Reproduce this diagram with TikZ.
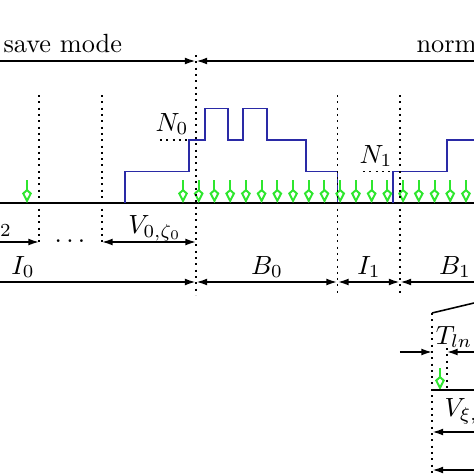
\documentclass[tikz,border=0pt]{standalone}
\usepackage{xcolor}
\usepackage{tikz}
\usetikzlibrary{arrows.meta}
\definecolor{lvlblue}{HTML}{2A2AA6}
\definecolor{pktgreen}{HTML}{2EE62E}

\begin{document}
\begin{tikzpicture}[x=3.8pt, y=3.8pt,
    dimr/.style={semithick, -{Latex[length=4pt,width=2.6pt]}},
    dimlr/.style={semithick, {Latex[length=4pt,width=2.6pt]}-{Latex[length=4pt,width=2.6pt]}},
    slotline/.style={line width=0.75pt, dash pattern=on 0.75pt off 1.65pt},
    pkt/.style={pktgreen, line width=0.75pt, -{Kite[open,length=5.4pt,width=3.8pt,inset=1.7pt]}}]
  \clip (0,-27.1) rectangle (47.4,20.3);
  % mode bar
  \node[anchor=base west, inner sep=0] (save) at (0.3,15.05) {save mode};
  \node[anchor=base west, inner sep=0] (norm) at (41.6,15.05) {norm};
  \draw[dimr] (0,14.2) -- (19.55,14.2);
  \draw[dimr] (47.4,14.2) -- (19.65,14.2);
  % time axis and queue level
  \draw[semithick] (0,0) -- (47.4,0);
  \draw[lvlblue, semithick] (12.5,0) -- (12.5,3.15) -- (18.9,3.15) -- (18.9,6.3)
        -- (20.5,6.3) -- (20.5,9.45) -- (22.8,9.45) -- (22.8,6.3) -- (24.3,6.3)
        -- (24.3,9.45) -- (26.7,9.45) -- (26.7,6.3) -- (30.6,6.3) -- (30.6,3.15)
        -- (33.75,3.15) -- (33.75,0);
  \draw[lvlblue, semithick] (39.3,0) -- (39.3,3.15) -- (44.7,3.15) -- (44.7,6.3) -- (47.4,6.3);
  \draw[slotline] (16.0,6.3) -- (18.9,6.3);
  \draw[slotline] (36.3,3.15) -- (39.3,3.15);
  \node (n0) at (17.2,7.9) {$N_0$};
  \node (n1) at (37.6,4.7) {$N_1$};
  % arrivals
  \draw[pkt] (2.7,2.3) -- (2.7,0);
  \foreach \k in {0,...,18}
    \draw[pkt] ({18.3+1.572*\k},2.3) -- ++(0,-2.3);
  % boundaries
  \draw[slotline] (3.9,10.8) -- (3.9,-4.2);
  \draw[slotline] (10.2,10.8) -- (10.2,-4.2);
  \draw[slotline] (19.6,14.8) -- (19.6,-9.2);
  \draw[slotline] (33.75,10.8) -- (33.75,-9.2);
  \draw[slotline] (40.0,10.8) -- (40.0,-9.2);
  % vacations
  \node (v2) at (0.6,-2.8) {$_2$};
  \draw[dimr] (0,-3.9) -- (3.9,-3.9);
  \node (dots) at (7.0,-3.8) {$\dots$};
  \draw[dimlr] (10.2,-3.9) -- (19.6,-3.9);
  \node (v0) at (15.5,-2.5) {$V_{0,\zeta_0}$};
  % periods
  \draw[dimr] (0,-7.9) -- (19.55,-7.9);
  \draw[dimlr] (19.65,-7.9) -- (33.7,-7.9);
  \draw[dimlr] (33.8,-7.9) -- (39.95,-7.9);
  \draw[dimr] (47.4,-7.9) -- (40.05,-7.9);
  \node (i0) at (2.3,-6.4) {$I_0$};
  \node (b0) at (26.7,-6.4) {$B_0$};
  \node (i1) at (36.9,-6.4) {$I_1$};
  \node (b1) at (45.5,-6.4) {$B_1$};
  % zoomed slot
  \draw[semithick] (43.2,-11.0) -- (47.4,-10.0);
  \draw[slotline] (43.2,-11.0) -- (43.2,-27.1);
  \draw[slotline] (44.7,-14.5) -- (44.7,-18.7);
  \draw[dimr] (40.0,-14.9) -- (43.2,-14.9);
  \draw[dimr] (47.4,-14.9) -- (44.7,-14.9);
  \node (tln) at (45.4,-13.4) {$T_{ln}$};
  \draw[pkt] (44.0,-16.5) -- (44.0,-18.7);
  \draw[semithick] (43.2,-18.7) -- (47.4,-18.7);
  \node[anchor=west, inner sep=0] (vxi) at (44.4,-20.8) {$V_{\xi,}$};
  \draw[dimr] (47.4,-22.9) -- (43.25,-22.9);
  \draw[dimr] (47.4,-26.7) -- (43.25,-26.7);
\end{tikzpicture}
\end{document}
